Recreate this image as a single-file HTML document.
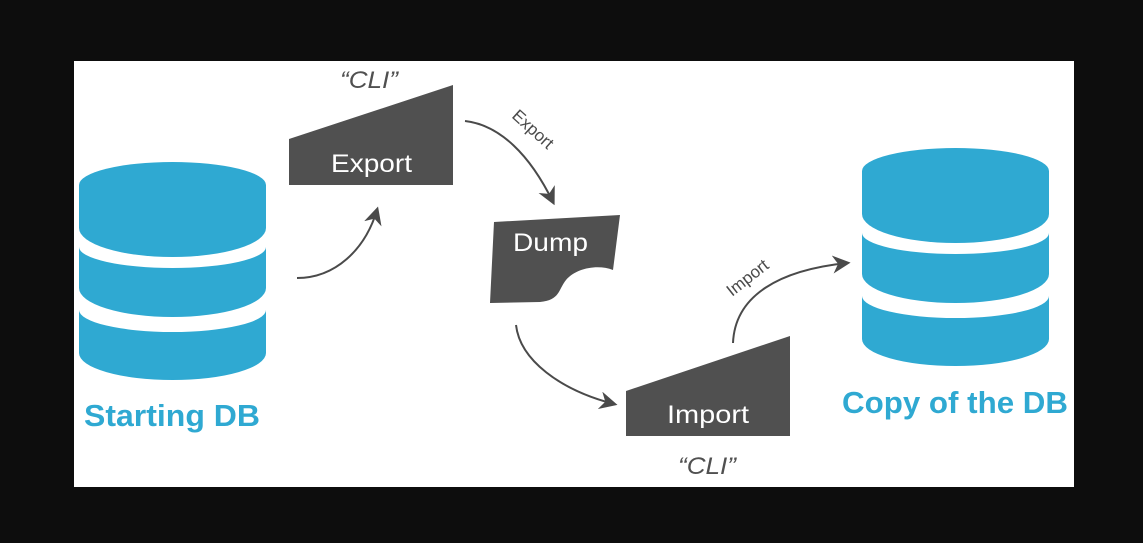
<!DOCTYPE html>
<html><head><style>
html,body{margin:0;padding:0;background:#0d0d0d;width:1143px;height:543px;overflow:hidden}
svg{display:block}
text{font-family:"Liberation Sans",sans-serif}
</style></head><body>
<svg width="1143" height="543" viewBox="0 0 1143 543" xmlns="http://www.w3.org/2000/svg">
<defs>
<marker id="ah2" viewBox="0 0 10 10" refX="8" refY="5" markerWidth="18" markerHeight="18" orient="auto" markerUnits="userSpaceOnUse">
<path d="M0,0 L10,5 L0,10 L3,5 Z" fill="#4a4a4a"/>
</marker>
<g id="db" fill="#2fa9d2">
<path d="M79,185 A93.5,23 0 0 1 266,185 L266,228 A93.5,29 0 0 1 79,228 Z"/>
<path d="M79,247 A93.5,21 0 0 0 266,247 L266,288 A93.5,29 0 0 1 79,288 Z"/>
<path d="M79,310 A93.5,22 0 0 0 266,310 L266,353 A93.5,27 0 0 1 79,353 Z"/>
</g>
</defs>
<rect x="74" y="61" width="1000" height="426" fill="#ffffff"/>
<use href="#db"/>
<use href="#db" transform="translate(783,-14)"/>
<text x="84" y="426" font-size="31" font-weight="bold" fill="#2fa9d2" textLength="176" lengthAdjust="spacingAndGlyphs">Starting DB</text>
<text x="842" y="413" font-size="31" font-weight="bold" fill="#2fa9d2" textLength="226" lengthAdjust="spacingAndGlyphs">Copy of the DB</text>
<polygon points="289,139 453,85 453,185 289,185" fill="#505050"/>
<text x="331" y="172" font-size="25" fill="#fff" textLength="81" lengthAdjust="spacingAndGlyphs">Export</text>
<text x="340" y="88" font-size="24" font-style="italic" fill="#505050" textLength="58" lengthAdjust="spacingAndGlyphs">“CLI”</text>
<path d="M494,222 L620,215 L613,270 C598,264 576,268 566,280 C558,290 560,300 540,302 L490,303 Z" fill="#505050"/>
<text x="513" y="251" font-size="25" fill="#fff" textLength="75" lengthAdjust="spacingAndGlyphs">Dump</text>
<polygon points="626,391 790,336 790,436 626,436" fill="#505050"/>
<text x="667" y="423" font-size="25" fill="#fff" textLength="82" lengthAdjust="spacingAndGlyphs">Import</text>
<text x="678" y="474" font-size="24" font-style="italic" fill="#505050" textLength="58" lengthAdjust="spacingAndGlyphs">“CLI”</text>
<g fill="none" stroke="#4a4a4a" stroke-width="2">
<path d="M297,278 C335,278 365,250 377,210" marker-end="url(#ah2)"/>
<path d="M465,121 C500,125 530,155 553,202" marker-end="url(#ah2)"/>
<path d="M516,325 C520,360 560,390 614,404" marker-end="url(#ah2)"/>
<path d="M733,343 C735,295 780,270 847,263" marker-end="url(#ah2)"/>
</g>
<text font-size="17" fill="#4a4a4a" transform="translate(511,117) rotate(42)">Export</text>
<text font-size="17" fill="#4a4a4a" transform="translate(732,297) rotate(-38)">Import</text>
</svg>
</body></html>
